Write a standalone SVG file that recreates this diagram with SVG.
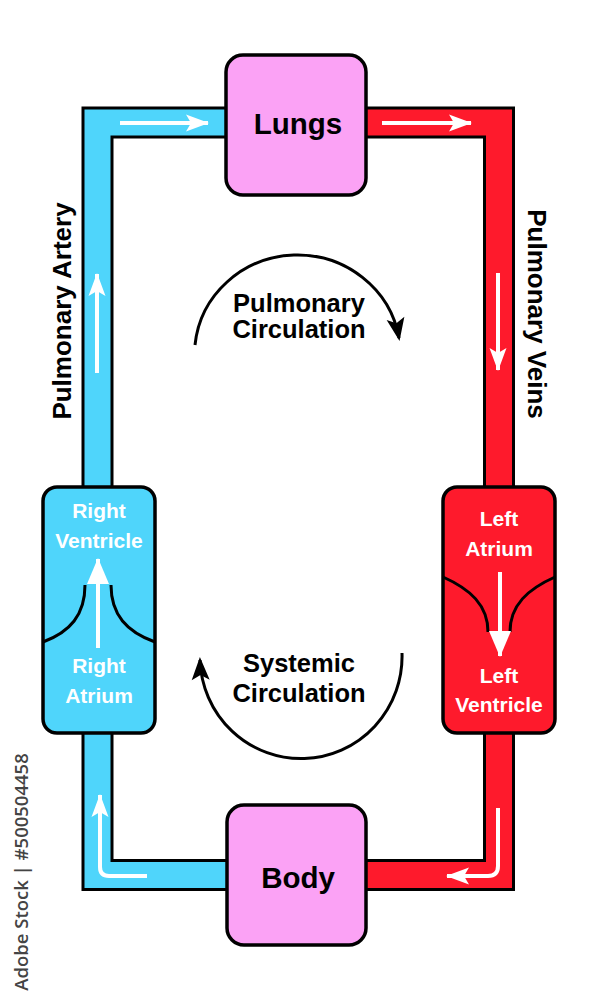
<svg xmlns="http://www.w3.org/2000/svg" width="598" height="1000" viewBox="0 0 598 1000">
<style>
.vb{fill:none;stroke:#000;stroke-width:32;stroke-linejoin:miter}
.blue{fill:none;stroke:#4fd5fb;stroke-width:26;stroke-linejoin:miter}
.red{fill:none;stroke:#fe1a2c;stroke-width:26;stroke-linejoin:miter}
.organ{fill:#fba2f5;stroke:#000;stroke-width:3.5}
.heartR{fill:#4fd5fb;stroke:#000;stroke-width:3.5}
.heartL{fill:#fe1a2c;stroke:#000;stroke-width:3.5}
.valve{fill:none;stroke:#000;stroke-width:3}
.wa{fill:none;stroke:#fff;stroke-width:4}
.ba{fill:none;stroke:#000;stroke-width:3}
.t{font-family:"Liberation Sans",Arial,sans-serif;font-weight:bold;text-anchor:middle}
.lbl{font-size:29.5px;fill:#000}
.hl{font-size:21px;fill:#fff}
.cl{font-size:25.5px;fill:#000}
.vl{font-size:26px;fill:#000}
</style>
<defs>
<marker id="wh" markerUnits="userSpaceOnUse" viewBox="-24 -10 26 20" refX="0" refY="0" markerWidth="26" markerHeight="20" orient="auto">
<path d="M1,0 L-22,-8.5 L-17,0 L-22,8.5 Z" fill="#fff"/>
</marker>
<marker id="whb" markerUnits="userSpaceOnUse" viewBox="-28 -13 30 26" refX="0" refY="0" markerWidth="30" markerHeight="26" orient="auto">
<path d="M1,0 L-25,-11 L-25,11 Z" fill="#fff"/>
</marker>
<marker id="bh" markerUnits="userSpaceOnUse" viewBox="-24 -11 28 22" refX="0" refY="0" markerWidth="28" markerHeight="22" orient="auto">
<path d="M3,0 L-20,-9 L-15,0 L-20,9 Z" fill="#000"/>
</marker>
</defs>
<g id="connectors">
<path class="vb" d="M226,122.5 H97.5 V875 H227"/>
<path class="vb" d="M366,122.5 H499 V875 H366"/>
<path class="blue" d="M230,122.5 H97.5 V875 H230"/>
<path class="red" d="M362,122.5 H499 V875 H362"/>
<path class="wa" d="M120,123 H208" marker-end="url(#wh)"/>
<path class="wa" d="M382,123 H471" marker-end="url(#wh)"/>
<path class="wa" d="M97,373 V274" marker-end="url(#wh)"/>
<path class="wa" d="M498,273 V370" marker-end="url(#wh)"/>
<path class="wa" d="M147,876 H109 Q100,876 100,867 V795" marker-end="url(#wh)"/>
<path class="wa" d="M498,808 V866 Q498,876 488,876 H447" marker-end="url(#wh)"/>
<path class="ba" d="M195,345 A103,100 0 0 1 399,338" marker-end="url(#bh)"/>
<path class="ba" d="M402,653 A101,102 0 0 1 200,660" marker-end="url(#bh)"/>
</g>
<g id="lungs">
<rect class="organ" x="226" y="55" width="140" height="140" rx="17"/>
<text class="t lbl" x="298" y="134">Lungs</text>
</g>
<g id="body">
<rect class="organ" x="227" y="805" width="139" height="140" rx="17"/>
<text class="t lbl" x="298" y="888">Body</text>
</g>
<g id="right-heart">
<rect class="heartR" x="43" y="487" width="112" height="246" rx="14"/>
<path class="valve" d="M43,642 C70,632 85,615 85,585"/>
<path class="valve" d="M111,585 C111,615 127,632 155,642"/>
<path class="wa" d="M98,648 V559" marker-end="url(#whb)"/>
<text class="t hl" x="99" y="518">Right</text>
<text class="t hl" x="99" y="548">Ventricle</text>
<text class="t hl" x="99" y="673">Right</text>
<text class="t hl" x="99" y="703">Atrium</text>
</g>
<g id="left-heart">
<rect class="heartL" x="443" y="487" width="112" height="246" rx="14"/>
<path class="valve" d="M443,577 C470,589 488,605 488,632"/>
<path class="valve" d="M510,632 C510,605 528,589 555,577"/>
<path class="wa" d="M500,572 V656" marker-end="url(#whb)"/>
<text class="t hl" x="499" y="526">Left</text>
<text class="t hl" x="499" y="556">Atrium</text>
<text class="t hl" x="499" y="683">Left</text>
<text class="t hl" x="499" y="712">Ventricle</text>
</g>
<g id="pulmonary-circulation">
<text class="t cl" x="299" y="312">Pulmonary</text>
<text class="t cl" x="299" y="338">Circulation</text>
</g>
<g id="systemic-circulation">
<text class="t cl" x="299" y="672">Systemic</text>
<text class="t cl" x="299" y="702">Circulation</text>
</g>
<g id="vessel-labels">
<text class="t vl" transform="translate(71,311) rotate(-90)">Pulmonary Artery</text>
<text class="t vl" transform="translate(528,314) rotate(90)">Pulmonary Veins</text>
</g>
<text transform="translate(28,872) rotate(-90)" font-family="'Open Sans','Noto Sans',sans-serif" font-size="18.5" font-weight="600" fill="#444" text-anchor="middle">Adobe Stock | #500504458</text>
</svg>
